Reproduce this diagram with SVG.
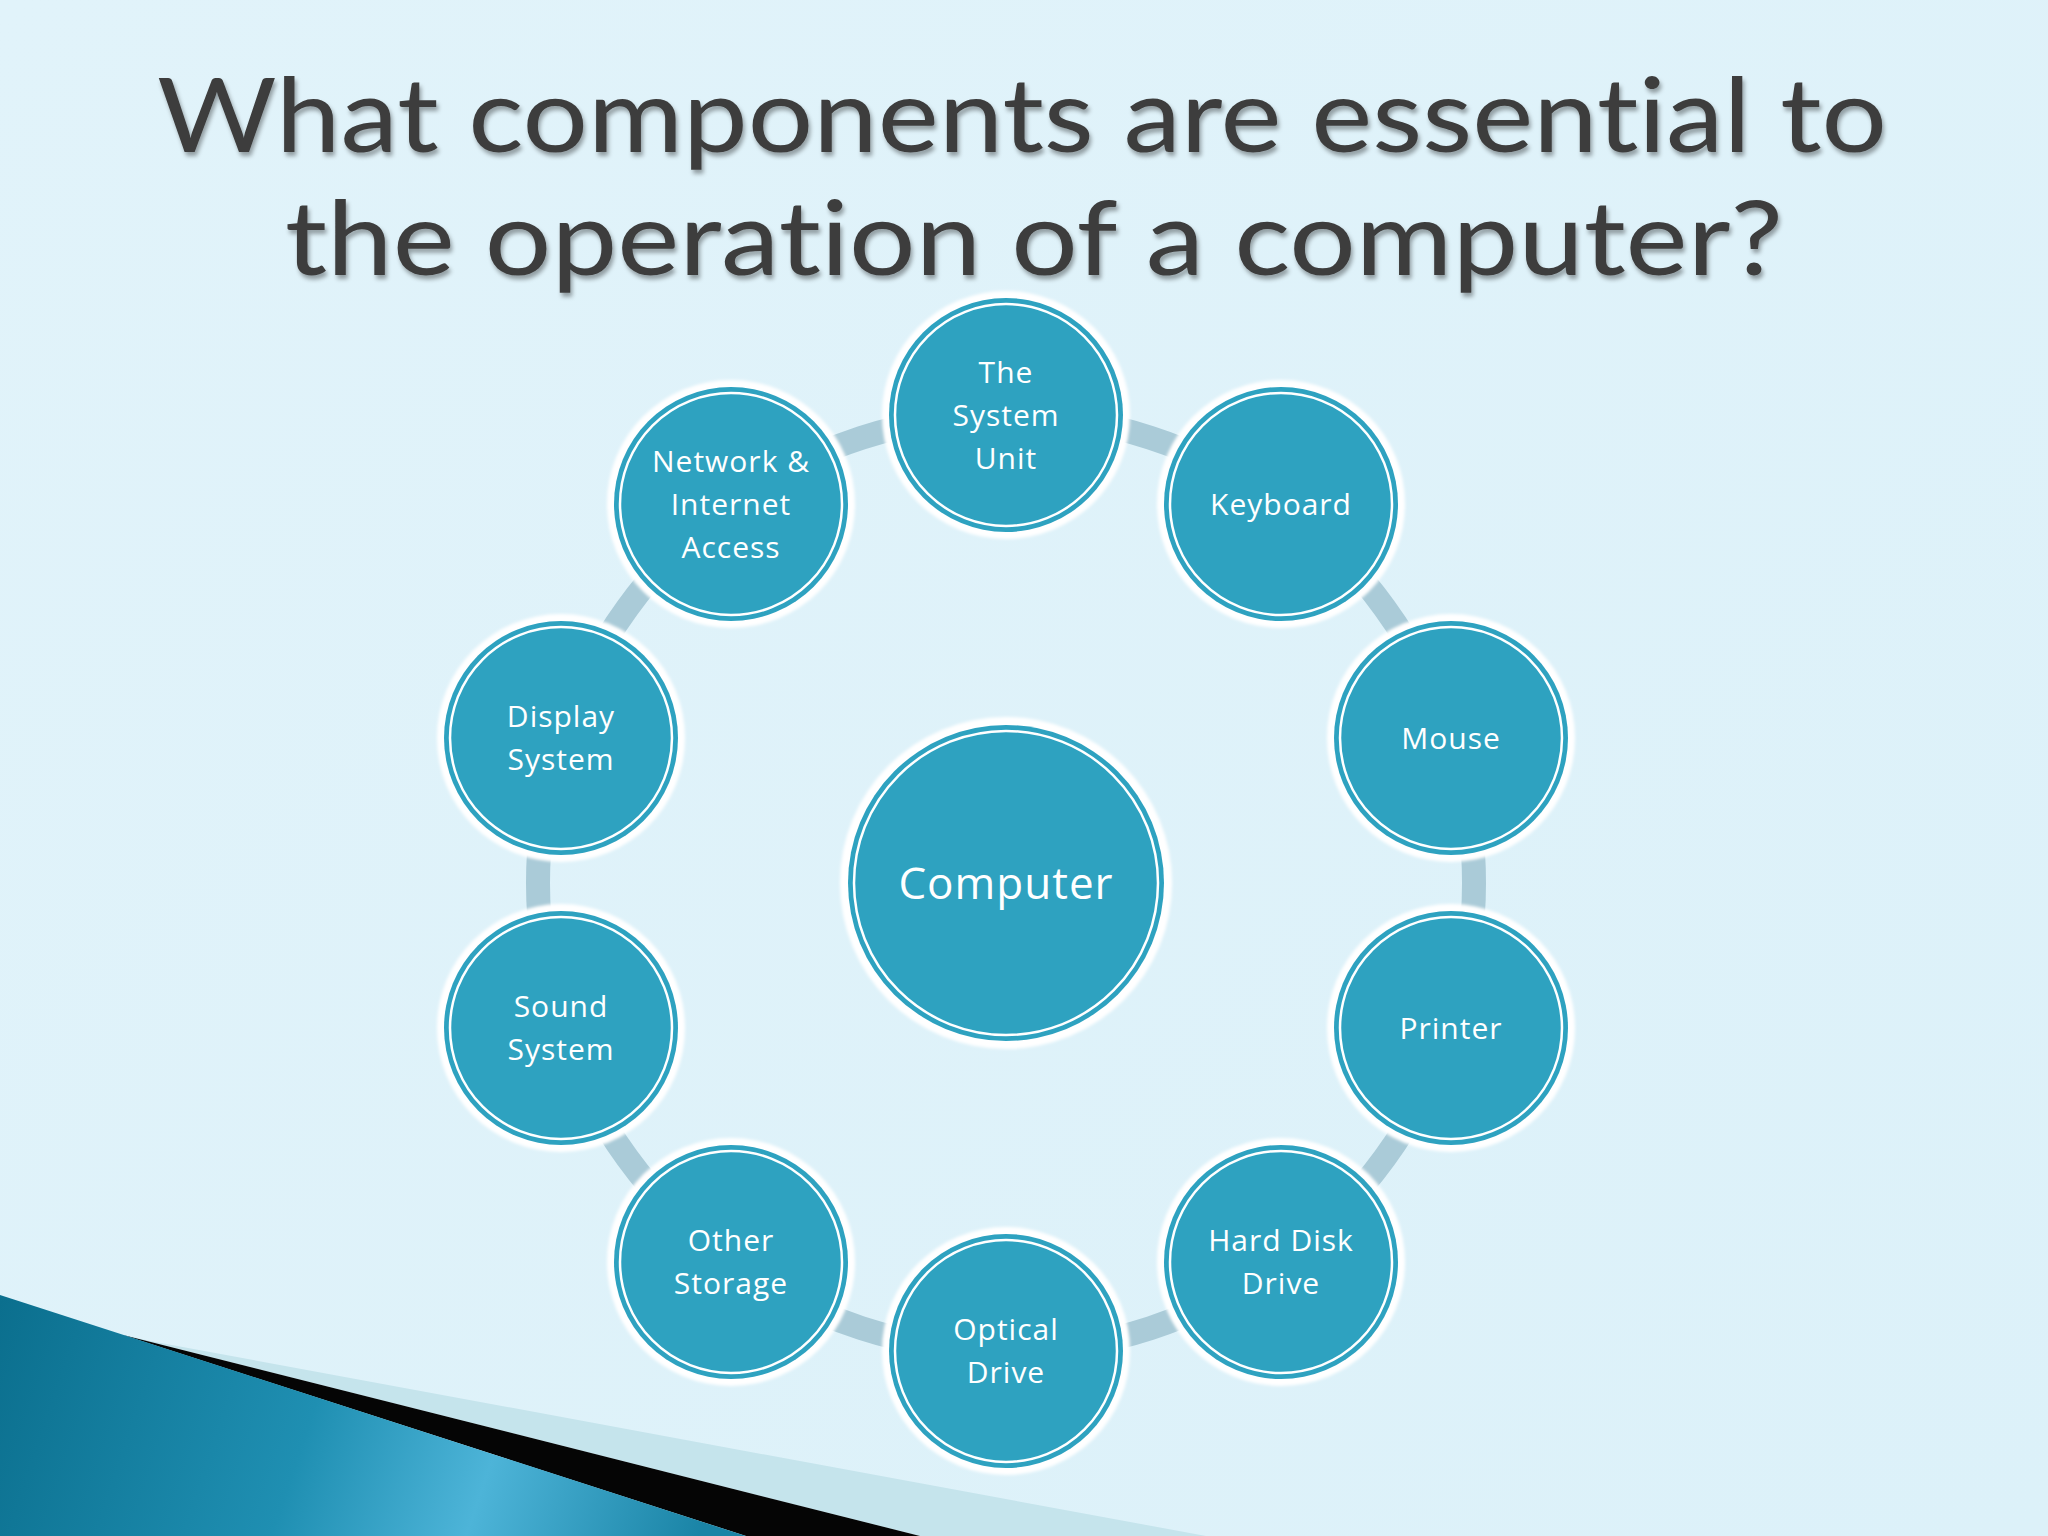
<svg xmlns="http://www.w3.org/2000/svg" width="2048" height="1536" viewBox="0 0 2048 1536">
<defs>
<linearGradient id="bg" x1="0" y1="0" x2="1" y2="1">
<stop offset="0" stop-color="#e1f3fa"/>
<stop offset="1" stop-color="#dcf1f9"/>
</linearGradient>
<linearGradient id="wedge" x1="0" y1="1300" x2="700" y2="1536" gradientUnits="userSpaceOnUse">
<stop offset="0" stop-color="#0b6f8e"/>
<stop offset="0.45" stop-color="#1f8fb2"/>
<stop offset="0.7" stop-color="#4db4d8"/>
<stop offset="1" stop-color="#1a84a6"/>
</linearGradient>
<filter id="tshadow" x="-5%" y="-20%" width="110%" height="150%">
<feDropShadow dx="2" dy="4" stdDeviation="2" flood-color="#000" flood-opacity="0.35"/>
</filter>
<filter id="glow" x="-10%" y="-10%" width="120%" height="120%">
<feGaussianBlur stdDeviation="1.5"/>
</filter>
</defs>
<style>
.title{font-family:Lato,"Open Sans",sans-serif;font-size:102px;fill:#3d3d3d;font-variant-ligatures:none;font-feature-settings:"liga" 0,"clig" 0;}
.ring{fill:#ffffff;}
.disc{fill:#2ea2c0;}
.inner{fill:none;stroke:#ffffff;stroke-width:2.5;}
.lbl{font-family:"Open Sans","Noto Sans",sans-serif;font-size:30px;fill:#ffffff;text-anchor:middle;letter-spacing:1px;}
.big{font-size:44px;}
.conn{fill:none;stroke:#aacbd8;stroke-width:24;}
</style>
<rect x="0" y="0" width="2048" height="1536" fill="url(#bg)"/>
<g id="decoration">
<polygon points="123,1335 150,1341 1206,1536 920,1536" fill="#c5e4ec"/>
<polygon points="123,1335 920,1536 746,1536" fill="#050505"/>
<polygon points="0,1295 746,1536 0,1536" fill="url(#wedge)"/>
</g>
<g id="title" filter="url(#tshadow)">
<text class="title"><tspan x="157" y="152" textLength="1730" lengthAdjust="spacingAndGlyphs">What components are essential to</tspan><tspan x="285" y="275" textLength="1498" lengthAdjust="spacingAndGlyphs">the operation of a computer?</tspan></text>
</g>
<g id="connectors">
<path class="conn" d="M1006,415 A468,468 0 0 1 1281.1,504.4"/>
<path class="conn" d="M1281.1,504.4 A468,468 0 0 1 1451.1,738.4"/>
<path class="conn" d="M1451.1,738.4 A468,468 0 0 1 1451.1,1027.6"/>
<path class="conn" d="M1451.1,1027.6 A468,468 0 0 1 1281.1,1261.6"/>
<path class="conn" d="M1281.1,1261.6 A468,468 0 0 1 1006,1351"/>
<path class="conn" d="M1006,1351 A468,468 0 0 1 730.9,1261.6"/>
<path class="conn" d="M730.9,1261.6 A468,468 0 0 1 560.9,1027.6"/>
<path class="conn" d="M560.9,1027.6 A468,468 0 0 1 560.9,738.4"/>
<path class="conn" d="M560.9,738.4 A468,468 0 0 1 730.9,504.4"/>
<path class="conn" d="M730.9,504.4 A468,468 0 0 1 1006,415"/>
</g>
<g id="node-computer">
<circle class="ring" cx="1006" cy="883" r="166" filter="url(#glow)"/>
<circle class="disc" cx="1006" cy="883" r="158"/>
<circle class="inner" cx="1006" cy="883" r="152"/>
<text class="lbl big" x="1006" y="899">Computer</text>
</g>
<g id="node-system-unit">
<circle class="ring" cx="1006" cy="415" r="124" filter="url(#glow)"/>
<circle class="disc" cx="1006" cy="415" r="117"/>
<circle class="inner" cx="1006" cy="415" r="111"/>
<text class="lbl" x="1006" y="383">The</text>
<text class="lbl" x="1006" y="426">System</text>
<text class="lbl" x="1006" y="469">Unit</text>
</g>
<g id="node-keyboard">
<circle class="ring" cx="1281" cy="504" r="124" filter="url(#glow)"/>
<circle class="disc" cx="1281" cy="504" r="117"/>
<circle class="inner" cx="1281" cy="504" r="111"/>
<text class="lbl" x="1281" y="515">Keyboard</text>
</g>
<g id="node-mouse">
<circle class="ring" cx="1451" cy="738" r="124" filter="url(#glow)"/>
<circle class="disc" cx="1451" cy="738" r="117"/>
<circle class="inner" cx="1451" cy="738" r="111"/>
<text class="lbl" x="1451" y="749">Mouse</text>
</g>
<g id="node-printer">
<circle class="ring" cx="1451" cy="1028" r="124" filter="url(#glow)"/>
<circle class="disc" cx="1451" cy="1028" r="117"/>
<circle class="inner" cx="1451" cy="1028" r="111"/>
<text class="lbl" x="1451" y="1039">Printer</text>
</g>
<g id="node-hard-disk">
<circle class="ring" cx="1281" cy="1262" r="124" filter="url(#glow)"/>
<circle class="disc" cx="1281" cy="1262" r="117"/>
<circle class="inner" cx="1281" cy="1262" r="111"/>
<text class="lbl" x="1281" y="1251">Hard Disk</text>
<text class="lbl" x="1281" y="1294">Drive</text>
</g>
<g id="node-optical">
<circle class="ring" cx="1006" cy="1351" r="124" filter="url(#glow)"/>
<circle class="disc" cx="1006" cy="1351" r="117"/>
<circle class="inner" cx="1006" cy="1351" r="111"/>
<text class="lbl" x="1006" y="1340">Optical</text>
<text class="lbl" x="1006" y="1383">Drive</text>
</g>
<g id="node-other-storage">
<circle class="ring" cx="731" cy="1262" r="124" filter="url(#glow)"/>
<circle class="disc" cx="731" cy="1262" r="117"/>
<circle class="inner" cx="731" cy="1262" r="111"/>
<text class="lbl" x="731" y="1251">Other</text>
<text class="lbl" x="731" y="1294">Storage</text>
</g>
<g id="node-sound">
<circle class="ring" cx="561" cy="1028" r="124" filter="url(#glow)"/>
<circle class="disc" cx="561" cy="1028" r="117"/>
<circle class="inner" cx="561" cy="1028" r="111"/>
<text class="lbl" x="561" y="1017">Sound</text>
<text class="lbl" x="561" y="1060">System</text>
</g>
<g id="node-display">
<circle class="ring" cx="561" cy="738" r="124" filter="url(#glow)"/>
<circle class="disc" cx="561" cy="738" r="117"/>
<circle class="inner" cx="561" cy="738" r="111"/>
<text class="lbl" x="561" y="727">Display</text>
<text class="lbl" x="561" y="770">System</text>
</g>
<g id="node-network">
<circle class="ring" cx="731" cy="504" r="124" filter="url(#glow)"/>
<circle class="disc" cx="731" cy="504" r="117"/>
<circle class="inner" cx="731" cy="504" r="111"/>
<text class="lbl" x="731" y="472">Network &amp;</text>
<text class="lbl" x="731" y="515">Internet</text>
<text class="lbl" x="731" y="558">Access</text>
</g>
</svg>
